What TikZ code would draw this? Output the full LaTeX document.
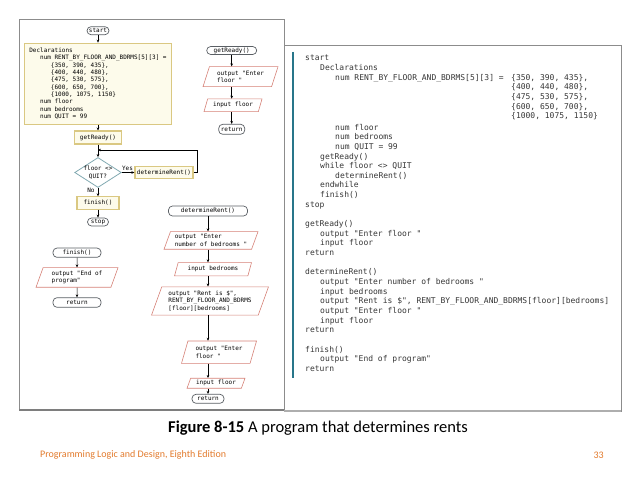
\documentclass[tikz,border=0pt]{standalone}
\usepackage{fontspec}
\setmainfont{Carlito}
\newfontfamily\chartfont{DejaVu Sans Mono}
\newfontfamily\codefont{DejaVu Sans Mono}
\usetikzlibrary{shapes.geometric,arrows.meta}
\definecolor{procline}{RGB}{218,200,130}
\definecolor{procfill}{RGB}{253,251,235}
\definecolor{ioline}{RGB}{214,130,120}
\definecolor{decline}{RGB}{130,170,178}
\definecolor{termline}{RGB}{90,95,100}
\definecolor{framegray}{RGB}{140,140,140}
\definecolor{codebar}{RGB}{40,118,138}
\definecolor{footorange}{RGB}{226,122,44}
\definecolor{codetext}{RGB}{55,55,55}

\begin{document}
\begin{tikzpicture}[x=1pt,y=-1pt,
    >={Stealth[length=3pt,width=2.6pt]},
    every node/.style={inner sep=1pt},
    chart/.style={font=\chartfont\fontsize{6}{7.33}\selectfont},
    term/.style={chart,draw=termline,line width=0.7pt,rounded corners=4pt,fill=white,align=center},
    proc/.style={chart,draw=procline,line width=1.1pt,fill=procfill},
    io/.style={chart,draw=ioline,line width=0.6pt,fill=white,trapezium,trapezium left angle=65,
      trapezium right angle=115,trapezium stretches body,align=left},
    dec/.style={chart,draw=decline,line width=0.8pt,fill=white,diamond,aspect=1.6,inner sep=-0.5pt,align=center},
    flow/.style={->,line width=0.5pt},
    lbl/.style={chart},
    code/.style={font=\codefont\fontsize{8}{9.65}\selectfont,text=codetext,align=left,inner sep=0pt}]
  \useasboundingbox (0,0) rectangle (638,478);
  % frames
  \draw[framegray,line width=0.8pt] (19,19) rectangle (284,410);
  \draw[framegray!90!black,line width=1.6pt] (19,410) -- (284,410);
  \draw[framegray,line width=0.8pt,fill=white] (284,45) rectangle (621,411);
  \draw[framegray!70,line width=1.4pt] (284,411) -- (621,411);
  \draw[codebar,line width=2pt] (293,52) -- (293,378);

  % main program
  \node[term,minimum width=22pt,minimum height=8pt] (start) at (98,30.7) {start};
  \node[proc,anchor=north,minimum width=147pt,minimum height=81pt,align=left] (decl) at (98,42.7)
    {Declarations\\
     \hspace*{10.8pt}num RENT\_BY\_FLOOR\_AND\_BDRMS[5][3] =\\
     \hspace*{21.6pt}\{350, 390, 435\},\\
     \hspace*{21.6pt}\{400, 440, 480\},\\
     \hspace*{21.6pt}\{475, 530, 575\},\\
     \hspace*{21.6pt}\{600, 650, 700\},\\
     \hspace*{21.6pt}\{1000, 1075, 1150\}\\
     \hspace*{10.8pt}num floor\\
     \hspace*{10.8pt}num bedrooms\\
     \hspace*{10.8pt}num QUIT = 99};
  \node[proc,minimum width=46.7pt,minimum height=13pt] (getr) at (98,137.5) {getReady()};
  \coordinate (j) at (98,150);
  \node[dec,minimum width=45pt,minimum height=30pt] (test) at (98,172.5) {floor <>\\QUIT?};
  \node[proc,minimum width=58pt,minimum height=11.5pt] (detr) at (164,172.5) {determineRent()};
  \coordinate (lp) at (197,150);
  \node[proc,minimum width=42pt,minimum height=12.3pt] (fin) at (98,203) {finish()};
  \node[term,minimum width=21pt,minimum height=8pt] (stop) at (98,222) {stop};
  \node[lbl,anchor=south] (yes) at (127.5,172) {Yes};
  \node[lbl] (no) at (91,190) {No};
  \draw[flow] (start) -- (decl);
  \draw[flow] (decl) -- (getr);
  \draw[flow] (getr) -- (test);
  \draw[flow] (test) -- (detr);
  \draw[flow] (detr.east) -- (lp |- detr.east) -- (lp) -- (j);
  \draw[flow] (test) -- (fin);
  \draw[flow] (fin) -- (stop);

  % finish()
  \node[term,minimum width=48pt,minimum height=9.3pt] (fin2) at (77,252.7) {finish()};
  \node[io,minimum width=82pt,minimum height=19.6pt] (outEnd) at (77,277.5) {output "End of\\program"};
  \node[term,minimum width=48pt,minimum height=9.6pt] (ret1) at (77,302.5) {return};
  \draw[flow] (fin2) -- (outEnd);
  \draw[flow] (outEnd) -- (ret1);

  % getReady()
  \node[term,minimum width=50pt,minimum height=8pt] (gr) at (231.7,50.5) {getReady()};
  \node[io,minimum width=75pt,minimum height=20pt] (outFl) at (240.5,76.7) {output "Enter\\floor "};
  \node[io,minimum width=58pt,minimum height=12.7pt] (inFl) at (233,105.3) {input floor};
  \node[term,minimum width=26pt,minimum height=10pt] (ret2) at (231.7,129.3) {return};
  \draw[flow] (gr) -- (gr |- outFl.north);
  \draw[flow] (gr |- outFl.south) -- (gr |- inFl.north);
  \draw[flow] (gr |- inFl.south) -- (ret2);

  % determineRent()
  \node[term,minimum width=79pt,minimum height=10pt] (dr) at (208,211) {determineRent()};
  \node[io,minimum width=94pt,minimum height=17.6pt] (outBed) at (211,240.5) {output "Enter\\number of bedrooms "};
  \node[io,minimum width=77pt,minimum height=13.3pt] (inBed) at (213,269.3) {input bedrooms};
  \node[io,minimum width=117pt,minimum height=28.3pt] (outRent) at (210,301)
    {output "Rent is \$",\\RENT\_BY\_FLOOR\_AND\_BDRMS\\ {[floor][bedrooms]}};
  \node[io,minimum width=75pt,minimum height=22.3pt] (outFl2) at (219,352.2) {output "Enter\\floor "};
  \node[io,minimum width=58pt,minimum height=10pt] (inFl2) at (216,383.3) {input floor};
  \node[term,minimum width=32pt,minimum height=9pt] (ret3) at (208,398.8) {return};
  \draw[flow] (dr) -- (dr |- outBed.north);
  \draw[flow] (dr |- outBed.south) -- (dr |- inBed.north);
  \draw[flow] (dr |- inBed.south) -- (dr |- outRent.north);
  \draw[flow] (dr |- outRent.south) -- (dr |- outFl2.north);
  \draw[flow] (dr |- outFl2.south) -- (dr |- inFl2.north);
  \draw[flow] (dr |- inFl2.south) -- (ret3);

  % pseudocode
  \node[code,anchor=north west] (prog) at (305,55)
    {start\\
     \hspace*{15pt}Declarations\\
     \makebox[206pt][l]{\hspace*{30pt}num RENT\_BY\_FLOOR\_AND\_BDRMS[5][3] =}\{350, 390, 435\},\\
     \hspace*{206pt}\{400, 440, 480\},\\
     \hspace*{206pt}\{475, 530, 575\},\\
     \hspace*{206pt}\{600, 650, 700\},\\
     \hspace*{206pt}\{1000, 1075, 1150\}\\[1.7pt]
     \hspace*{30pt}num floor\\
     \hspace*{30pt}num bedrooms\\
     \hspace*{30pt}num QUIT = 99\\
     \hspace*{15pt}getReady()\\
     \hspace*{15pt}while floor <> QUIT\\
     \hspace*{30pt}determineRent()\\
     \hspace*{15pt}endwhile\\
     \hspace*{15pt}finish()\\
     stop\\
     \mbox{}\\
     getReady()\\
     \hspace*{15pt}output "Enter floor "\\
     \hspace*{15pt}input floor\\
     return\\
     \mbox{}\\
     determineRent()\\
     \hspace*{15pt}output "Enter number of bedrooms "\\
     \hspace*{15pt}input bedrooms\\
     \hspace*{15pt}output "Rent is \$", RENT\_BY\_FLOOR\_AND\_BDRMS[floor][bedrooms]\\
     \hspace*{15pt}output "Enter floor "\\
     \hspace*{15pt}input floor\\
     return\\
     \mbox{}\\
     finish()\\
     \hspace*{15pt}output "End of program"\\
     return};

  % caption and footer
  \node[font=\fontsize{16.5}{19}\selectfont] (cap) at (318,428.5) {\textbf{Figure 8-15} A program that determines rents};
  \node[anchor=west,text=footorange,font=\fontsize{10}{12}\selectfont] (book) at (39,455) {Programming Logic and Design, Eighth Edition};
  \node[anchor=east,text=footorange,font=\fontsize{10}{12}\selectfont] (page) at (605,455) {33};
\end{tikzpicture}
\end{document}
